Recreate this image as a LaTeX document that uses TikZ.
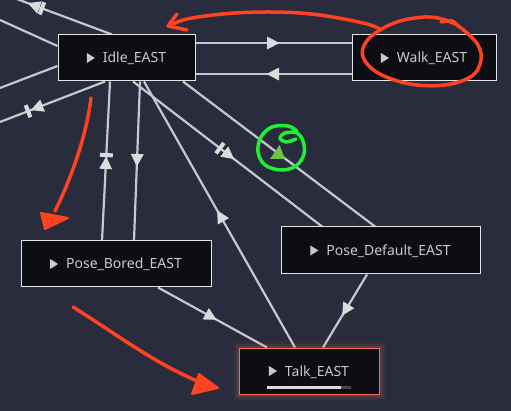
\documentclass[tikz,border=0pt]{standalone}
\usepackage{fontspec}
\setmainfont{Noto Sans}
\usetikzlibrary{decorations.markings}
\definecolor{bgc}{RGB}{40,44,60}
\definecolor{boxfill}{RGB}{13,14,19}
\definecolor{boxline}{RGB}{228,228,230}
\definecolor{txt}{RGB}{200,202,207}
\definecolor{linec}{RGB}{198,200,206}
\definecolor{mk}{RGB}{218,219,221}
\definecolor{hot}{RGB}{240,112,92}
\definecolor{redpen}{RGB}{255,66,34}
\definecolor{greenpen}{RGB}{34,238,51}
\definecolor{greentri}{RGB}{112,196,72}
\definecolor{bardark}{RGB}{70,72,80}
\pgfdeclarelayer{bg}
\pgfdeclarelayer{edges}
\pgfsetlayers{bg,edges,main}
\newcommand{\playicon}{\tikz[baseline=0pt]\fill[txt] (0pt,0pt)--(0pt,10pt)--(8pt,5pt)--cycle;\hspace{8pt}}
\tikzset{
 state/.style={draw=boxline, fill=boxfill, line width=1pt, minimum height=46pt, inner sep=0pt,
   text=txt, text height=10pt, text depth=0pt, font=\fontsize{14pt}{16pt}\selectfont},
 conn/.style={draw=linec, line width=2.2pt},
 fwdtri/.style={postaction={decorate,decoration={markings,mark=at position #1 with {\fill[mk] (6.5pt,0pt)--(-6pt,6.5pt)--(-6pt,-6.5pt)--cycle;}}}},
 barat/.style={postaction={decorate,decoration={markings,mark=at position #1 with {\fill[mk] (-2pt,-6.5pt) rectangle (2pt,6.5pt);}}}},
 pen/.style={draw=redpen, line width=3.5pt, line cap=round, line join=round},
 gpen/.style={draw=greenpen, line width=3.5pt, line cap=round, line join=round},
}
\begin{document}
\begin{tikzpicture}[x=1pt,y=-1pt]
\useasboundingbox (0,0) rectangle (511,411);
\begin{pgfonlayer}{bg}
\fill[bgc] (0,0) rectangle (511,411);
\end{pgfonlayer}

\node[state, minimum width=137pt] (idle) at (126.5,58) {\playicon Idle\_EAST};
\node[state, minimum width=144pt] (walk) at (424,58) {\playicon Walk\_EAST};
\node[state, minimum width=190pt] (bored) at (116,264) {\playicon Pose\_Bored\_EAST};
\node[state, minimum width=199pt, minimum height=47pt] (def) at (380.5,250.5) {\playicon Pose\_Default\_EAST};
\node[state, draw=hot, minimum width=140pt] (talk) at (309,371) {\playicon Talk\_EAST};

\coordinate (offA) at (0,20);
\coordinate (offB) at (0,88);
\coordinate (offC) at (0,122);
\coordinate (offD) at (-10,-11);

\begin{pgfonlayer}{edges}
\draw[conn, fwdtri=0.497] ([yshift=15pt]idle.east) -- ([yshift=15pt]walk.west);
\draw[conn, fwdtri=0.503] ([yshift=-16pt]walk.west) -- ([yshift=-16pt]idle.east);
\draw[conn, fwdtri=0.4875, barat=0.5375] ([xshift=-14pt]bored.north) -- ([xshift=-16.5pt]idle.south);
\draw[conn, fwdtri=0.494] ([xshift=13.5pt]idle.south) -- ([xshift=18pt]bored.north);
\draw[conn, fwdtri=0.494] ([xshift=-14pt]talk.north) -- ([xshift=17.5pt]idle.south);
\draw[conn, fwdtri=0.508, barat=0.46] ([xshift=6.5pt]idle.south) -- ([xshift=-58.5pt]def.north);
\draw[conn] ([xshift=-5.5pt]def.north) -- ([xshift=56.5pt]idle.south);
\draw[conn, fwdtri=0.486] ([xshift=42pt]bored.south) -- ([xshift=-42pt]talk.north);
\draw[conn, fwdtri=0.486] ([xshift=-13.5pt]def.south) -- ([xshift=14pt]talk.north);
\draw[conn] (offA) -- ([yshift=12pt]idle.west);
\draw[conn] ([yshift=-8pt]idle.west) -- (offB);
\draw[conn, fwdtri=0.648, barat=0.733] ([xshift=-21.5pt]idle.south) -- (offC);
\draw[conn, fwdtri=0.64, barat=0.574] ([xshift=-14.5pt]idle.north) -- (offD);
\fill[greentri] (270,159) -- (279.5,145) -- (285,159) -- cycle;
\foreach \w/\o in {12/0.05, 8/0.08, 4/0.14}
  \draw[hot, line width=\w pt, opacity=\o] (talk.south west) rectangle (talk.north east);
\end{pgfonlayer}

% progress bar in Talk_EAST
\draw[bardark, line width=3pt] ([xshift=-42pt,yshift=-16pt]talk.center) -- ([xshift=42pt,yshift=-16pt]talk.center);
\draw[mk, line width=3pt] ([xshift=-42pt,yshift=-16pt]talk.center) -- ([xshift=32pt,yshift=-16pt]talk.center);

% red annotations
\draw[pen] plot[smooth, tension=0.6] coordinates {(380,29) (367,24) (333,17) (300,13) (267,12) (235,13) (205,16) (183,20) (169,26)};
\draw[pen] (177,14) -- (168,26) -- (187,30);
\draw[pen] plot[smooth, tension=0.6] coordinates {(441,22) (452,21) (457,25) (467,33) (478,45) (481,60) (472,76) (445,85) (410,84) (378,73) (363,57) (366,42) (380,30) (400,21) (425,17) (442,19) (455,24)};
\draw[pen] (91,98) .. controls (86,140) and (68,185) .. (55,211);
\fill[redpen, draw=redpen, line width=2pt, line join=round] (41,213) -- (68,218) -- (45,229) -- cycle;
\draw[pen] (73,307) .. controls (115,333) and (160,368) .. (210,386);
\fill[redpen, draw=redpen, line width=2pt, line join=round] (199,374) -- (218,388) -- (192,394) -- cycle;

% green annotation
\draw[gpen] plot[smooth, tension=0.6] coordinates {(297,131) (288,126) (272,127) (261,137) (258,152) (265,165) (281,170) (296,166) (304,154) (303,141) (297,133) (285,133) (280,138) (286,142) (296,139)};
\end{tikzpicture}
\end{document}
